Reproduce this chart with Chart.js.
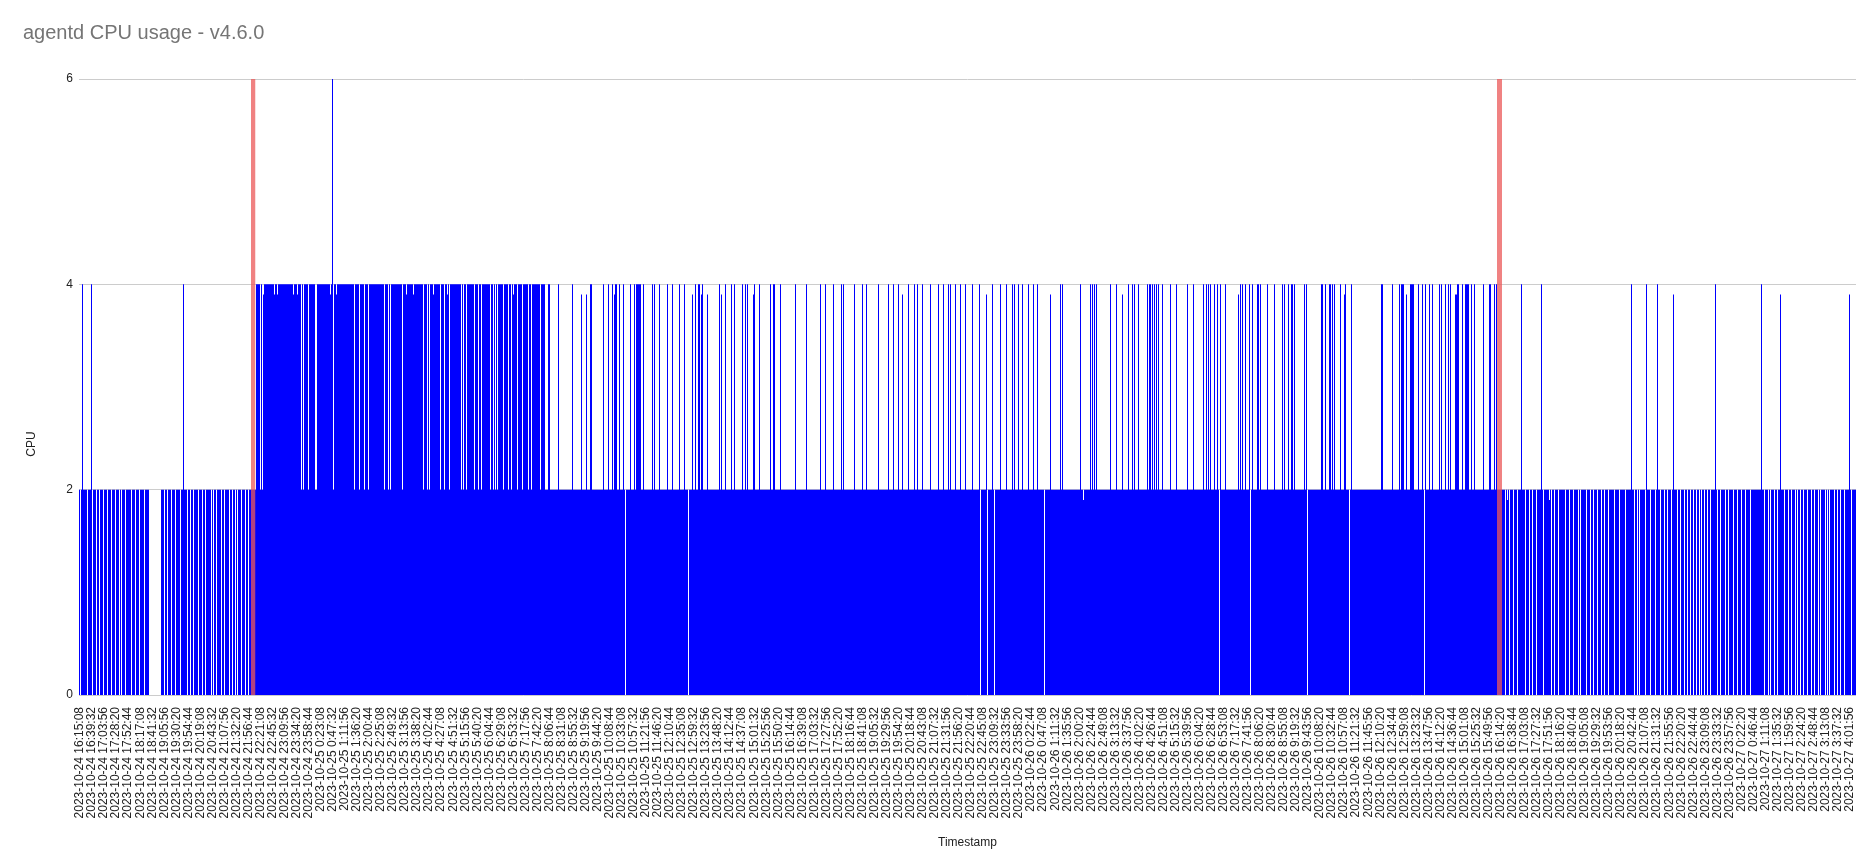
<!DOCTYPE html>
<html><head><meta charset="utf-8">
<script src="https://cdn.jsdelivr.net/npm/chart.js@4"></script>
<style>html,body{margin:0;padding:0;background:#fff}#w{width:1876px;height:864px}</style>
</head><body><div id="w"><canvas id="c"></canvas></div>
<script>
// Start time of the series: 2023-10-24 16:15:08
const startDate = [2023, 10, 24, 16, 15, 8];
const secondsPerSample = 121.6;
const tickLabelStepSeconds = 1464;
const firstTickSeconds = 121.6;
const tickCount = 148;
const yTicks = [0, 2, 4, 6];
// level codes: a=1.9, b=3.9
const levelCodes = {'0':0,'2':2,'4':4,'6':6,'a':1.9,'b':3.9};
// sample runs: start sample index and per-sample CPU levels
const chunkStarts = [0, 177, 466, 621, 771, 966, 1121, 1271, 1424];
const chunkLevels = [
 "2024222202"+"2240222022"+"0222022202"+"2202220222"+"0202220222"+"2202220222"+"0222202222"+"0000000000"+"0022202202"+"2202220222"+"2022422202"+"2022022220"+"2220220222"+"2202022022"+"2202202222"+"0220220202"+"220222022022"+"22222",
 "4444242b44"+"44444444b4"+"4b44444444"+"4444444b44"+"4b44424244"+"4424444442"+"2444444444"+"4444b46244"+"b444444444"+"4444444424"+"4442444424"+"4424444444"+"4444444424"+"4424244444"+"4444442444"+"b444444b44"+"4444444244"+"4242444b44"+"4444244424"+"4b42444444"+"4444424244"+"2444444424"+"4424424444"+"4444244242"+"4244444244"+"4424424b44"+"4244442444"+"4424424444"+"444424444",
 "2224422222"+"2224222222"+"2222222422"+"222222b222"+"2b22244222"+"2222222242"+"222422242b"+"4422422242"+"0222242224"+"2444442242"+"2222222424"+"2222422222"+"2242222422"+"2222422224"+"2220222b22"+"42244",
 "2b42222b22"+"2222222224"+"2b22242222"+"2422422222"+"2242242422"+"222b422224"+"2222222222"+"4224422222"+"4222222222"+"2222242222"+"2222224222"+"2222222222"+"4222242222"+"2224222222"+"2424222222",
 "2222422222"+"2242224222"+"2222222242"+"2222222242"+"2224222242"+"22b2222242"+"2222422422"+"2242222222"+"4222222242"+"2224222242"+"4222242222"+"4222242222"+"2242222224"+"022222b022"+"2242022222"+"4222224222"+"2242422242"+"2242222242"+"2224222422"+"22220",
 "22222b2222"+"2222242422"+"2222222222"+"22222422a2"+"2222242424"+"2422222222"+"2222242222"+"2422222b22"+"2224222424"+"2224222222"+"2242442424"+"2424222422"+"2222242222"+"2422222222"+"2242222242"+"22222",
 "2224224242"+"4222422420"+"4222242222"+"22222222b2"+"4242242224"+"0242222442"+"4222222422"+"2222422222"+"2242422242"+"2442422222"+"2222424022"+"2222222222"+"2442242224"+"4242422222"+"4222b42220",
 "2422222222"+"2222222222"+"2222222222"+"2442222222"+"2242222224"+"244422b222"+"4444222242"+"2242042224"+"2242222224"+"2422242242"+"42222bb442"+"2242244442"+"2422422222"+"2224222224"+"4222424222"+"222",
 "2202a20222"+"0222022242"+"2202220220"+"2220222242"+"022222a202"+"2022202222"+"2202220222"+"0222202022"+"2220222022"+"0222022202"+"2022202222"+"2022220222"+"2202222242"+"2022020222"+"2204222022"+"2202422022"+"2022022202"+"b222022022"+"2022022022"+"0220220202"+"2022022022"+"2242022022"+"2202202222"+"0222022202"+"2202222022"+"2222222242"+"2022202022"+"2022022b22"+"2022202202"+"2202022022"+"0222022202"+"2022202022"+"2202020222"+"2022022022"+"202222b202"
];
const endSample = 1777;
// highlighted (red) intervals, in sample index units: [start, end]
const redStarts = [172, 1418];
const redEnds = [176.5, 1423];
const redValue = 6;

function fmtTime(sec){
  const d = new Date(Date.UTC(startDate[0], startDate[1]-1, startDate[2], startDate[3], startDate[4], startDate[5]) + Math.round(sec)*1000);
  const p = n => String(n).padStart(2,'0');
  return d.getUTCFullYear()+'-'+p(d.getUTCMonth()+1)+'-'+p(d.getUTCDate())+' '+d.getUTCHours()+':'+p(d.getUTCMinutes())+':'+p(d.getUTCSeconds());
}

const pts = [];
chunkStarts.forEach((s, ci) => {
  const str = chunkLevels[ci];
  for (let i = 0; i < str.length; i++) pts.push({x:(s+i)*secondsPerSample, y:levelCodes[str[i]]});
});
pts.push({x:endSample*secondsPerSample, y:pts[pts.length-1].y});

const datasets = [{
  data: pts, stepped: 'before', fill: 'origin', backgroundColor: '#0000ff',
  borderWidth: 0, pointRadius: 0, order: 2
}];
redStarts.forEach((s, i) => datasets.push({
  data: [{x:s*secondsPerSample, y:redValue}, {x:redEnds[i]*secondsPerSample, y:redValue}],
  fill: 'origin', backgroundColor: 'rgba(235,88,88,0.75)', borderWidth: 0, pointRadius: 0, order: 1
}));

const textPlugin = {id:'t', afterDraw(ch){const c=ch.ctx;c.save();
  c.font='20px "Liberation Sans", Arial';c.fillStyle='#757575';c.textBaseline='alphabetic';c.fillText('agentd CPU usage - v4.6.0',23,39);
  c.font='12px "Liberation Sans", Arial';c.fillStyle='#222';c.translate(32,444);c.rotate(-Math.PI/2);c.textAlign='center';c.textBaseline='middle';c.fillText('CPU',0,0);
  c.restore();}};

new Chart(document.getElementById('c'), {
  type: 'line',
  data: {datasets},
  plugins: [textPlugin],
  options: {
    responsive: true, maintainAspectRatio: false, animation: false,
    layout: {padding: {top: 79, right: 20, left: 0, bottom: 0}},
    plugins: {legend: {display: false}, tooltip: {enabled: false}},
    scales: {
      x: {
        type: 'linear', min: 0, max: endSample*secondsPerSample,
        afterFit(s){ s.height = 169; },
        afterBuildTicks(s){ const t=[]; for(let k=0;k<tickCount;k++) t.push({value: firstTickSeconds + k*tickLabelStepSeconds}); s.ticks=t; },
        ticks: {autoSkip: false, maxRotation: 90, minRotation: 90, color: '#222', font: {size: 12, family: '"Liberation Sans", Arial'}, padding: 4,
          callback: v => fmtTime(v - firstTickSeconds)},
        grid: {display: false}, border: {display: false},
        title: {display: true, text: 'Timestamp', color: '#222', font: {size: 12, family: '"Liberation Sans", Arial'}, padding: {top: 12, bottom: 14}}
      },
      y: {
        min: 0, max: 6,
        afterFit(s){ s.width = 79; },
        afterBuildTicks(s){ s.ticks = yTicks.map(v => ({value: v})); },
        ticks: {color: '#222', font: {size: 12, family: '"Liberation Sans", Arial'}, padding: 6},
        grid: {color: '#cccccc', drawTicks: false}, border: {display: false}
      }
    }
  }
});
</script></body></html>
